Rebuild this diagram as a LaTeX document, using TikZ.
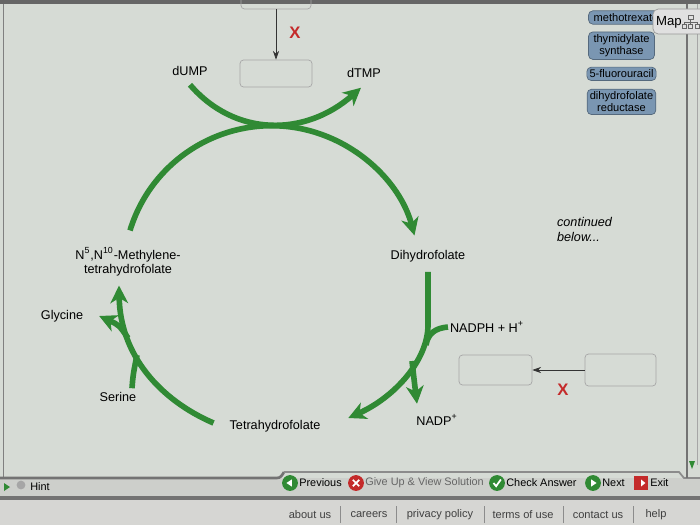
\documentclass[tikz,border=0pt]{standalone}
\usepackage{fontspec}
\setmainfont{Liberation Sans}
\usetikzlibrary{arrows.meta}
\usetikzlibrary{positioning}

\definecolor{screen}{RGB}{214,219,213}
\definecolor{leaf}{RGB}{48,138,52}
\definecolor{drugblue}{RGB}{122,150,178}
\definecolor{cross}{RGB}{196,42,42}
\definecolor{bargray}{RGB}{205,207,203}
\definecolor{footgray}{RGB}{214,214,211}

\begin{document}
\begin{tikzpicture}[x=0.02cm,y=0.02cm,
	lbl/.style={font=\fontsize{7.2}{8.4}\selectfont,inner sep=1pt},
	pathway/.style={draw=leaf,line width=3.2pt,-{Stealth[length=10pt,width=10pt,inset=3pt]}},
	branch/.style={draw=leaf,line width=3.2pt},
	slot/.style={draw=black!35,rounded corners=2pt,inner sep=0pt},
	drug/.style={fill=drugblue,draw=drugblue!70!black,rounded corners=2.5pt,font=\fontsize{6.3}{6.8}\selectfont,align=center,inner sep=1.5pt,minimum width=1.32cm},
	wrong/.style={text=cross,font=\bfseries\fontsize{9.5}{9.5}\selectfont},
	tool/.style={font=\fontsize{6.2}{7}\selectfont,inner sep=0pt,anchor=west},
	icon/.style={circle,inner sep=0pt,minimum size=9pt},
	link/.style={font=\fontsize{6.3}{7}\selectfont,text=black!75}]

	\clip (0,0) rectangle (700,525);

	% Screen and bars
	\fill[screen] (0,47) rectangle (700,525);
	\fill[black!60] (0,521) rectangle (700,525);
	\fill[bargray] (0,28) rectangle (700,47);
	\fill[footgray] (0,0) rectangle (700,27);
	\draw[black!50] (3,47) -- (3,521);
	\draw[black!55,line width=1.5pt] (0,47) -- (277,47) to[out=0,in=240] (284,53);
	\draw[black!45,line width=1pt] (284,53) -- (679,53) -- (684,47) -- (700,47);
	\draw[black!55,line width=2pt] (0,27) -- (700,27);
	\draw[black!55,line width=1.3pt] (687,47) -- (687,521);
	\draw[black!35] (697,60) -- (697,521);
	\fill[leaf] (689,64) -- (695,64) -- (692,56) -- cycle;

	% Place nodes
	\node[slot,minimum width=1.4cm,minimum height=0.6cm] (topbox) at (276,531) {};
	\node[slot,minimum width=1.44cm,minimum height=0.54cm] (enzyme) at (276,451.5) {};
	\node[wrong] (x1) at (295,492) {X};
	\node[lbl] (dump) at (190,454) {dUMP};
	\node[lbl] (dtmp) at (364,452) {dTMP};
	\node[lbl] (dhf) at (428,269) {Dihydrofolate};
	\node[lbl,align=center] (mthf) at (128,263) {N\textsuperscript{5},N\textsuperscript{10}-Methylene-\\tetrahydrofolate};
	\node[lbl] (gly) at (62,209) {Glycine};
	\node[lbl] (ser) at (118,128) {Serine};
	\node[lbl] (thf) at (275,99) {Tetrahydrofolate};
	\node[lbl] (nadph) at (487,198) {NADPH + H\textsuperscript{+}};
	\node[lbl] (nadp) at (437,105) {NADP\textsuperscript{+}};
	\node[lbl,align=left,anchor=west,font=\itshape\fontsize{7.2}{8}\selectfont] (cont) at (555,295.5) {continued\\below...};
	\node[slot,minimum width=1.46cm,minimum height=0.6cm] (slotA) at (495.5,155) {};
	\node[slot,minimum width=1.42cm,minimum height=0.64cm] (slotB) at (620.5,155) {};
	\node[wrong] (x2) at (563,135) {X};

	% Drug and enzyme tiles
	\node[drug,minimum width=1.5cm] (metho) at (626,507.5) {methotrexate};
	\node[drug,below=0.14cm of metho.south west,anchor=north west] (synth) {thymidylate\\synthase};
	\node[drug,below=0.14cm of synth,minimum width=1.38cm] (fluoro) {5-fluorouracil};
	\node[drug,below=0.16cm of fluoro] (reduct) {dihydrofolate\\reductase};
	\draw[black!40,fill=black!12,rounded corners=3pt] (653,491) rectangle (710,516);
	\node[lbl,font=\fontsize{7.5}{8}\selectfont] (map) at (669,503) {Map};
	\draw[black!60,line width=0.4pt] (688,506) rectangle (693,510) (690.5,506) -- (690.5,503) (684,503) -- (697,503)
		(684,503) -- (684,501) (690.5,503) -- (690.5,501) (697,503) -- (697,501)
		(682,497) rectangle (686,501) (688.5,497) rectangle (692.5,501) (695,497) rectangle (699,501);

	% Black arrows
	\draw[-{Stealth[length=5pt,width=3.5pt]},black!80] (topbox.south) -- (enzyme.north);
	\draw[-{Stealth[length=5pt,width=3.5pt]},black!80] (slotB.west) -- (slotA.east);

	% Green pathways
	\draw[pathway] ([yshift=-4pt]dump.south) .. controls (235,388) and (305,388) .. ([shift={(-3,-8)}]dtmp.south);
	\draw[pathway] ([shift={(2,15)}]mthf.north) arc[start angle=163,end angle=15,radius=148];
	\draw[pathway] ([yshift=-4.5pt]dhf.south) -- (428,200) .. controls (428,165) and (395,128) .. ([shift={(-66,2)}]nadp.west);
	\draw[branch] (nadph.west) .. controls (436,197) and (428,192) .. (426,180);
	\draw[pathway] (412,164) .. controls (414,146) .. ([shift={(-20,9)}]nadp.north);
	\draw[pathway] ([shift={(-14,3)}]thf.west) .. controls (160,125) and (120,170) .. ([shift={(-9,-7)}]mthf.south);
	\draw[branch] ([shift={(14,2)}]ser.north) .. controls (133,150) .. (137,170);
	\draw[pathway] (128,187) .. controls (119,200) .. ([shift={(14,0)}]gly.east);

	% Toolbar
	\fill[leaf] (4,34) -- (10,38) -- (4,42) -- cycle;
	\node[circle,fill=black!35,inner sep=0pt,minimum size=5pt] (bulb) at (21,40) {};
	\node[tool] (hint) at (30,38) {Hint};
	\node[icon,fill=leaf] (prevI) at (290,42) {};
	\fill[white] ([xshift=-2pt]prevI.center) -- ++(3pt,2pt) -- ++(0,-4pt) -- cycle;
	\node[tool] (prev) at (299,42) {Previous};
	\node[icon,fill=cross] (giveI) at (356,42) {};
	\draw[white,line width=1pt] ([shift={(-1.8pt,-1.8pt)}]giveI.center) -- ([shift={(1.8pt,1.8pt)}]giveI.center)
		([shift={(-1.8pt,1.8pt)}]giveI.center) -- ([shift={(1.8pt,-1.8pt)}]giveI.center);
	\node[tool,text=black!60] (give) at (365,42) {Give Up \& View Solution};
	\node[icon,fill=leaf] (checkI) at (497,42) {};
	\draw[white,line width=1pt] ([shift={(-2pt,0pt)}]checkI.center) -- ([shift={(-0.5pt,-1.8pt)}]checkI.center) -- ([shift={(2.2pt,2pt)}]checkI.center);
	\node[tool] (check) at (506,42) {Check Answer};
	\node[icon,fill=leaf] (nextI) at (593,42) {};
	\fill[white] ([xshift=2pt]nextI.center) -- ++(-3pt,2pt) -- ++(0,-4pt) -- cycle;
	\node[tool] (next) at (602,42) {Next};
	\node[fill=cross,inner sep=0pt,minimum size=8pt] (exitI) at (641,42) {};
	\fill[white] ([xshift=2.5pt]exitI.center) -- ++(-2.5pt,2pt) -- ++(0,-4pt) -- cycle;
	\node[tool] (exit) at (650,42) {Exit};

	% Footer links
	\node[link] (about) at (310,10) {about us};
	\node[link] (careers) at (369,10) {careers};
	\node[link] (privacy) at (440,10) {privacy policy};
	\node[link] (terms) at (523,10) {terms of use};
	\node[link] (contact) at (598,10) {contact us};
	\node[link] (help) at (656,10) {help};
	\draw[black!45] (340,2) -- (340,19) (396,2) -- (396,19) (484,2) -- (484,19) (563,2) -- (563,19) (633,2) -- (633,19);
\end{tikzpicture}
\end{document}
